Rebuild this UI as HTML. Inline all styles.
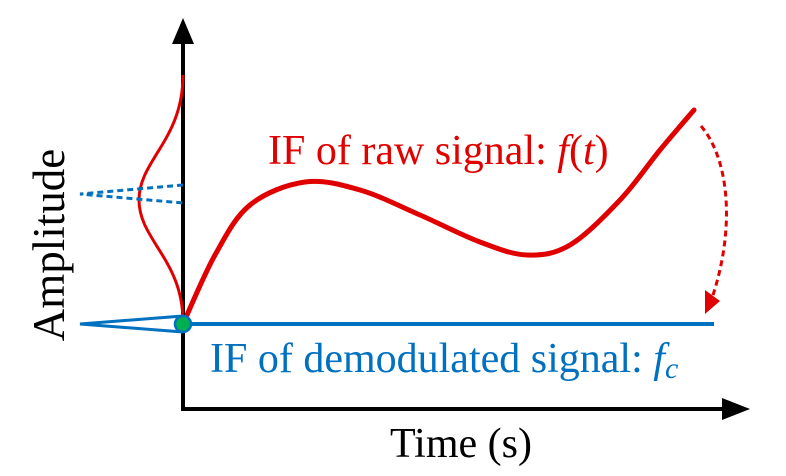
<!DOCTYPE html>
<html><head><meta charset="utf-8"><style>
html,body{margin:0;padding:0;background:#fff;}
svg{display:block;}
text{font-family:"Liberation Serif","Times New Roman",serif;}
</style></head><body>
<svg width="786" height="476" viewBox="0 0 786 476">
<g id="marks"></g>
<line x1="183" y1="410" x2="183" y2="40" stroke="#000" stroke-width="4"/>
<polygon points="183,18 172,44 194,44" fill="#000"/>
<line x1="181" y1="409" x2="725" y2="409" stroke="#000" stroke-width="4"/>
<polygon points="750,409 722,398 722,420" fill="#000"/>
<text x="390" y="457" font-size="42" fill="#000">Time (s)</text>
<text transform="translate(64,245) rotate(-90)" text-anchor="middle" font-size="45" fill="#000">Amplitude</text>
<text x="268" y="164" font-size="42" fill="#e00000">IF of raw signal: <tspan font-style="italic">f</tspan>(<tspan font-style="italic">t</tspan>)</text>
<text x="210" y="372" font-size="42" fill="#0070c0">IF of demodulated signal: <tspan font-style="italic">f</tspan><tspan font-style="italic" font-size="30" dy="6">c</tspan></text>
<path d="M183,75 C183,140 139,160 139,200 C139,240 183,260 183,322" fill="none" stroke="#e00000" stroke-width="3"/>
<path d="M183,185 L80,194 L183,203" fill="none" stroke="#0070c0" stroke-width="3" stroke-dasharray="6,4"/>
<path d="M183,316 L80,324 L183,332" fill="none" stroke="#0070c0" stroke-width="3"/>
<line x1="183" y1="324" x2="714" y2="324" stroke="#0070c0" stroke-width="4"/>
<path d="M701,126 C730,160 735,230 712,298" fill="none" stroke="#e00000" stroke-width="3" stroke-dasharray="6,4"/>
<polygon points="705,314 720,301 705,290" fill="#e00000"/>
<circle cx="183" cy="324" r="8" fill="#00b050" stroke="#0070c0" stroke-width="2.5"/>
</svg>
<script>
const timeX = [183,215,250,305,360,420,480,527,570,620,660,694];
const rawIF = [324,255,205,182,190,215,242,255,245,200,150,110];
const pts = timeX.map((x,i)=>[x,rawIF[i]]);
let d = 'M'+pts[0][0]+','+pts[0][1];
for(let i=0;i<pts.length-1;i++){
  const p0=pts[Math.max(0,i-1)],p1=pts[i],p2=pts[i+1],p3=pts[Math.min(pts.length-1,i+2)];
  const c1=[p1[0]+(p2[0]-p0[0])/6,p1[1]+(p2[1]-p0[1])/6];
  const c2=[p2[0]-(p3[0]-p1[0])/6,p2[1]-(p3[1]-p1[1])/6];
  d+=' C'+c1.join(',')+' '+c2.join(',')+' '+p2.join(',');
}
const path=document.createElementNS('http://www.w3.org/2000/svg','path');
path.setAttribute('d',d);
path.setAttribute('fill','none');
path.setAttribute('stroke','#e00000');
path.setAttribute('stroke-width','5');
path.setAttribute('stroke-linecap','round');


document.getElementById('marks').appendChild(path);
</script>
</body></html>
